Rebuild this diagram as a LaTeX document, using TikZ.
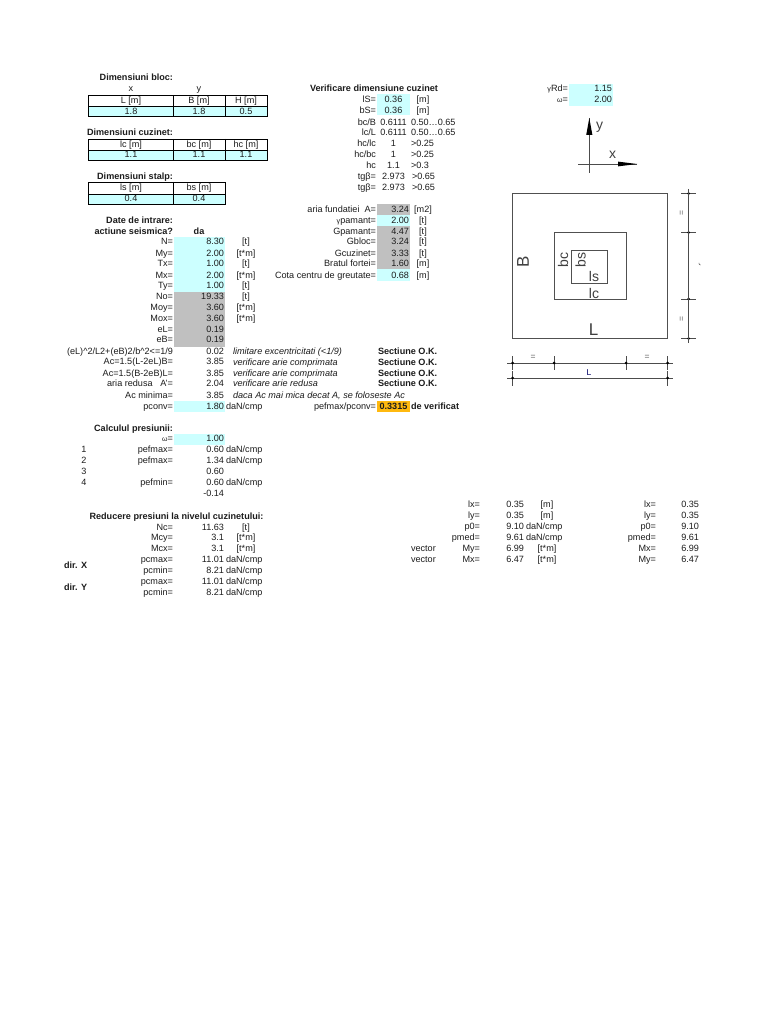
\documentclass[tikz,border=0pt]{standalone}
\usepackage{fontspec}
\setmainfont{Liberation Sans}
\usetikzlibrary{arrows.meta}
\definecolor{ink}{HTML}{1C1C1C}
\definecolor{cy}{HTML}{CCFFFF}
\definecolor{gr}{HTML}{C0C0C0}
\definecolor{orng}{HTML}{FFB90F}
\definecolor{planline}{HTML}{505050}
\newcounter{tn}
\tikzset{
 tbase/.style={inner sep=0pt,outer sep=0pt,text=ink,font=\fontsize{9.1}{10}\selectfont},
 bf/.style={font=\fontsize{9.1}{10}\selectfont\bfseries},
 it/.style={font=\fontsize{9.1}{10}\selectfont\itshape},
 bigl/.style={font=\fontsize{17}{18}\selectfont,text=black!75},
 midl/.style={font=\fontsize{14}{15}\selectfont,text=black!75},
 tinyl/.style={font=\fontsize{8.5}{9}\selectfont,text=black!60},
 plan/.style={draw=planline,line width=0.8pt},
 dim/.style={draw=black!70,line width=0.5pt},
 dimdot/.style={circle,fill=black,minimum size=3pt,inner sep=0pt},
 tgrid/.style={draw=black,line width=0.9pt},
}
\newcommand{\txt}[5][]{\stepcounter{tn}\node[tbase,#1,anchor=base #2] (n\arabic{tn}) at (#3,#4+3.2) {#5};}
\newcommand{\rgt}[1][]{\txt[#1]{east}}
\newcommand{\lft}[1][]{\txt[#1]{west}}
\newcommand{\ctr}[1][]{\txt[#1]{}}
\newcommand{\fillc}[5]{\fill[#1] (#2,#3) rectangle (#4,#5);}
\newcommand{\omg}{{\fontsize{7}{8}\selectfont ω}}
\newcommand{\gam}{{\fontsize{7.2}{8}\selectfont γ}}
\begin{document}
\begin{tikzpicture}[x=1pt,y=-1pt]
\useasboundingbox (0,0) rectangle (768,1024);
\fill[white] (0,0) rectangle (768,1024);
% fills
\fillc{cy}{88}{106}{267}{116}
\fillc{cy}{88}{150}{267}{160}
\fillc{cy}{88}{194}{225}{204}
\fillc{cy}{174}{236.5}{225}{291.5}
\fillc{gr}{174}{291.5}{225}{346.5}
\fillc{cy}{174}{401}{225}{412}
\fillc{cy}{174}{434}{225}{445}
\fillc{cy}{377}{94.5}{410}{115.5}
\fillc{gr}{377}{204}{410}{215}
\fillc{cy}{377}{215}{410}{226}
\fillc{gr}{377}{226}{410}{269}
\fillc{cy}{377}{269}{410}{281}
\fillc{orng}{377}{401}{410}{412}
\fillc{cy}{569}{84}{613}{106}
% table grids
\draw[tgrid] (88,95) rectangle (267,116);
\draw[tgrid] (88,106)--(267,106) (173,95)--(173,116) (225,95)--(225,116);
\draw[tgrid] (88,139) rectangle (267,160);
\draw[tgrid] (88,150)--(267,150) (173,139)--(173,160) (225,139)--(225,160);
\draw[tgrid] (88,182) rectangle (225,204);
\draw[tgrid] (88,194)--(225,194) (173,182)--(173,204);
% left column
\rgt[bf]{173}{77.5}{Dimensiuni bloc:}
\ctr{131}{88.5}{x}\ctr{199}{88.5}{y}
\ctr{131}{100.5}{L [m]}\ctr{199}{100.5}{B [m]}\ctr{246}{100.5}{H [m]}
\ctr{131}{111}{1.8}\ctr{199}{111}{1.8}\ctr{246}{111}{0.5}
\rgt[bf]{173}{132}{Dimensiuni cuzinet:}
\ctr{131}{144}{lc [m]}\ctr{199}{144}{bc [m]}\ctr{246}{144}{hc [m]}
\ctr{131}{154.5}{1.1}\ctr{199}{154.5}{1.1}\ctr{246}{154.5}{1.1}
\rgt[bf]{173}{176}{Dimensiuni stalp:}
\ctr{131}{187.5}{ls [m]}\ctr{199}{187.5}{bs [m]}
\ctr{131}{198.5}{0.4}\ctr{199}{198.5}{0.4}
\rgt[bf]{173}{220}{Date de intrare:}
\rgt[bf]{173}{231}{actiune seismica?}
\ctr[bf]{199}{231}{da}
\rgt{173}{241.5}{N=}\rgt{224}{241.5}{8.30}\ctr{246}{241.5}{[t]}
\rgt{173}{253}{My=}\rgt{224}{253}{2.00}\ctr{246}{253}{[t*m]}
\rgt{173}{263.5}{Tx=}\rgt{224}{263.5}{1.00}\ctr{246}{263.5}{[t]}
\rgt{173}{275}{Mx=}\rgt{224}{275}{2.00}\ctr{246}{275}{[t*m]}
\rgt{173}{285}{Ty=}\rgt{224}{285}{1.00}\ctr{246}{285}{[t]}
\rgt{173}{296}{No=}\rgt{224}{296}{19.33}\ctr{246}{296}{[t]}
\rgt{173}{307}{Moy=}\rgt{224}{307}{3.60}\ctr{246}{307}{[t*m]}
\rgt{173}{318}{Mox=}\rgt{224}{318}{3.60}\ctr{246}{318}{[t*m]}
\rgt{173}{329}{eL=}\rgt{224}{329}{0.19}
\rgt{173}{339.5}{eB=}\rgt{224}{339.5}{0.19}
\rgt{173}{351}{(eL)\textasciicircum 2/L2+(eB)2/b\textasciicircum 2<=1/9}\rgt{224}{351}{0.02}
\rgt{173}{361.5}{Ac=1.5(L-2eL)B=}\rgt{224}{361.5}{3.85}
\rgt{173}{373}{Ac=1.5(B-2eB)L=}\rgt{224}{373}{3.85}
\rgt{173}{383.5}{aria redusa~~ A'=}\rgt{224}{383.5}{2.04}
\rgt{173}{395}{Ac minima=}\rgt{224}{395}{3.85}
\rgt{173}{406}{pconv=}\rgt{224}{406}{1.80}\lft{226}{406}{daN/cmp}
\lft[it]{233}{351}{limitare excentricitati (<1/9)}
\lft[it]{233}{362}{verificare arie comprimata}
\lft[it]{233}{373}{verificare arie comprimata}
\lft[it]{233}{383.5}{verificare arie redusa}
\lft[it]{233}{395}{daca Ac mai mica decat A, se foloseste Ac}
\lft[bf]{378}{351}{Sectiune O.K.}
\lft[bf]{378}{362}{Sectiune O.K.}
\lft[bf]{378}{373}{Sectiune O.K.}
\lft[bf]{378}{383.5}{Sectiune O.K.}
\rgt{376}{406}{pefmax/pconv=}
\ctr[bf]{393.5}{406}{0.3315}
\lft[bf]{411}{406.5}{de verificat}
% pressure
\rgt[bf]{173}{428}{Calculul presiunii:}
\rgt{173}{438.5}{\omg=}\rgt{224}{438.5}{1.00}
\ctr{84}{449.5}{1}\rgt{173}{449.5}{pefmax=}\rgt{224}{449.5}{0.60}\lft{226}{449.5}{daN/cmp}
\ctr{84}{460.5}{2}\rgt{173}{460.5}{pefmax=}\rgt{224}{460.5}{1.34}\lft{226}{460.5}{daN/cmp}
\ctr{84}{471.5}{3}\rgt{224}{471.5}{0.60}
\ctr{84}{482.5}{4}\rgt{173}{482.5}{pefmin=}\rgt{224}{482.5}{0.60}\lft{226}{482.5}{daN/cmp}
\rgt{224}{493}{-0.14}
\ctr[bf]{176.5}{516}{Reducere presiuni la nivelul cuzinetului:}
\rgt{173}{527}{Nc=}\rgt{224}{527}{11.63}\ctr{246}{527}{[t]}
\rgt{173}{537.5}{Mcy=}\rgt{224}{537.5}{3.1}\ctr{246}{537.5}{[t*m]}
\rgt{173}{548.5}{Mcx=}\rgt{224}{548.5}{3.1}\ctr{246}{548.5}{[t*m]}
\rgt{173}{559}{pcmax=}\rgt{224}{559}{11.01}\lft{226}{559}{daN/cmp}
\rgt{173}{570.5}{pcmin=}\rgt{224}{570.5}{8.21}\lft{226}{570.5}{daN/cmp}
\rgt{173}{581}{pcmax=}\rgt{224}{581}{11.01}\lft{226}{581}{daN/cmp}
\rgt{173}{592.5}{pcmin=}\rgt{224}{592.5}{8.21}\lft{226}{592.5}{daN/cmp}
\lft[bf]{64}{565}{dir. X}
\lft[bf]{64}{587}{dir. Y}
% middle column
\lft[bf]{310}{88}{Verificare dimensiune cuzinet}
\rgt{376}{99.5}{lS=}\ctr{393.5}{99.5}{0.36}\ctr{423}{99.5}{[m]}
\rgt{376}{110.5}{bS=}\ctr{393.5}{110.5}{0.36}\ctr{423}{110.5}{[m]}
\rgt{376}{122}{bc/B}\ctr{393.5}{122}{0.6111}\lft{411}{122}{0.50…0.65}
\rgt{376}{132.5}{lc/L}\ctr{393.5}{132.5}{0.6111}\lft{411}{132.5}{0.50…0.65}
\rgt{376}{143.5}{hc/lc}\ctr{393.5}{143.5}{1}\lft{411}{143.5}{>0.25}
\rgt{376}{154.5}{hc/bc}\ctr{393.5}{154.5}{1}\lft{411}{154.5}{>0.25}
\rgt{376}{165.5}{hc}\ctr{393.5}{165.5}{1.1}\lft{411}{165.5}{>0.3}
\rgt{376}{176}{tgβ=}\ctr{393.5}{176}{2.973}\lft{412}{176}{>0.65}
\rgt{376}{187.5}{tgβ=}\ctr{393.5}{187.5}{2.973}\lft{412}{187.5}{>0.65}
\rgt{376}{209}{aria fundatiei~ A=}\rgt{409}{209}{3.24}\ctr{423}{209}{[m2]}
\rgt{376}{220}{\gam pamant=}\rgt{409}{220}{2.00}\ctr{423}{220}{[t]}
\rgt{376}{231}{Gpamant=}\rgt{409}{231}{4.47}\ctr{423}{231}{[t]}
\rgt{376}{241.5}{Gbloc=}\rgt{409}{241.5}{3.24}\ctr{423}{241.5}{[t]}
\rgt{376}{253}{Gcuzinet=}\rgt{409}{253}{3.33}\ctr{423}{253}{[t]}
\rgt{376}{263.5}{Bratul fortei=}\rgt{409}{263.5}{1.60}\ctr{423}{263.5}{[m]}
\rgt{376}{275}{Cota centru de greutate=}\rgt{409}{275}{0.68}\ctr{423}{275}{[m]}
% top right
\rgt{568}{88}{\gam Rd=}\rgt{612}{88}{1.15}
\rgt{568}{99.5}{\omg=}\rgt{612}{99.5}{2.00}
% axes
\coordinate (yb) at (589.3,173);\coordinate (yt) at (589.3,118);
\coordinate (xl) at (578,164);\coordinate (xr) at (637,164);
\draw[black!70,line width=0.6pt] (yb)--(yt);
\draw[black!70,line width=0.6pt] (xl)--(xr);
\fill[black] (yt)--(586.2,135)--(592.4,135)--cycle;
\fill[black] (xr)--(618,161.6)--(618,166.4)--cycle;
\ctr[midl]{599.5}{126}{y}
\ctr[midl]{612.5}{155.5}{x}
% plan
\draw[plan] (512.5,193.5) rectangle (667.5,338.5);
\draw[plan] (554,232.5) rectangle (626,299);
\draw[plan] (571.5,250) rectangle (607.5,283);
\node[tbase,bigl,rotate=90] (lblB) at (523,262) {B};
\node[tbase,midl,rotate=90] (lblbc) at (563,260) {bc};
\node[tbase,midl,rotate=90] (lblbs) at (580.5,260) {bs};
\node[tbase,midl] (lblls) at (594,276) {ls};
\node[tbase,midl] (lbllc) at (594,293) {lc};
\node[tbase,bigl] (lblL) at (593.5,330) {L};
% vertical dimension
\foreach \n/\yy in {va/193.5,vb/232.5,vc/299,vd/338.5}{\draw[dim] (681,\yy)--(696,\yy);
 \node[dimdot] (\n) at (688.7,\yy) {};}
\coordinate (vtop) at (688.7,189);\coordinate (vbot) at (688.7,343);
\draw[dim] (vtop)--(vbot);
\node[tbase,tinyl,rotate=90] (eq1) at (682,213) {=};
\node[tbase,tinyl,rotate=90] (eq2) at (682,319) {=};
\draw[black!60,line width=0.6pt] (700.5,265) arc (90:200:1.6);
% horizontal dimensions
\coordinate (ha) at (507,363);\coordinate (hb) at (673,363);
\coordinate (la) at (507,378);\coordinate (lb) at (673,378);
\draw[dim] (ha)--(hb);\draw[dim] (la)--(lb);
\foreach \n/\xx in {ha1/512.5,ha2/554,ha3/626,ha4/667.5}{\draw[dim] (\xx,356)--(\xx,370);
 \node[dimdot] (\n) at (\xx,363) {};}
\foreach \n/\xx in {lb1/512.5,lb2/667.5}{\draw[dim] (\xx,371)--(\xx,386);
 \node[dimdot] (\n) at (\xx,378) {};}
\node[tbase,tinyl] (eq3) at (533,357) {=};
\node[tbase,tinyl] (eq4) at (647,357) {=};
\node[tbase,tinyl,text=blue!40!black] (dimL) at (589,373) {L};
% bottom block
\rgt{480}{504}{lx=}\rgt{524}{504}{0.35}\ctr{547}{504}{[m]}
\rgt{480}{515}{ly=}\rgt{524}{515}{0.35}\ctr{547}{515}{[m]}
\rgt{480}{526.5}{p0=}\rgt{524}{526.5}{9.10}\lft{526}{526.5}{daN/cmp}
\rgt{480}{537}{pmed=}\rgt{524}{537}{9.61}\lft{526}{537}{daN/cmp}
\lft{411}{548.5}{vector}\rgt{480}{548.5}{My=}\rgt{524}{548.5}{6.99}\ctr{547}{548.5}{[t*m]}
\lft{411}{559}{vector}\rgt{480}{559}{Mx=}\rgt{524}{559}{6.47}\ctr{547}{559}{[t*m]}
\rgt{656}{504}{lx=}\rgt{699}{504}{0.35}
\rgt{656}{515}{ly=}\rgt{699}{515}{0.35}
\rgt{656}{526.5}{p0=}\rgt{699}{526.5}{9.10}
\rgt{656}{537}{pmed=}\rgt{699}{537}{9.61}
\rgt{656}{548.5}{Mx=}\rgt{699}{548.5}{6.99}
\rgt{656}{559}{My=}\rgt{699}{559}{6.47}
\end{tikzpicture}
\end{document}
